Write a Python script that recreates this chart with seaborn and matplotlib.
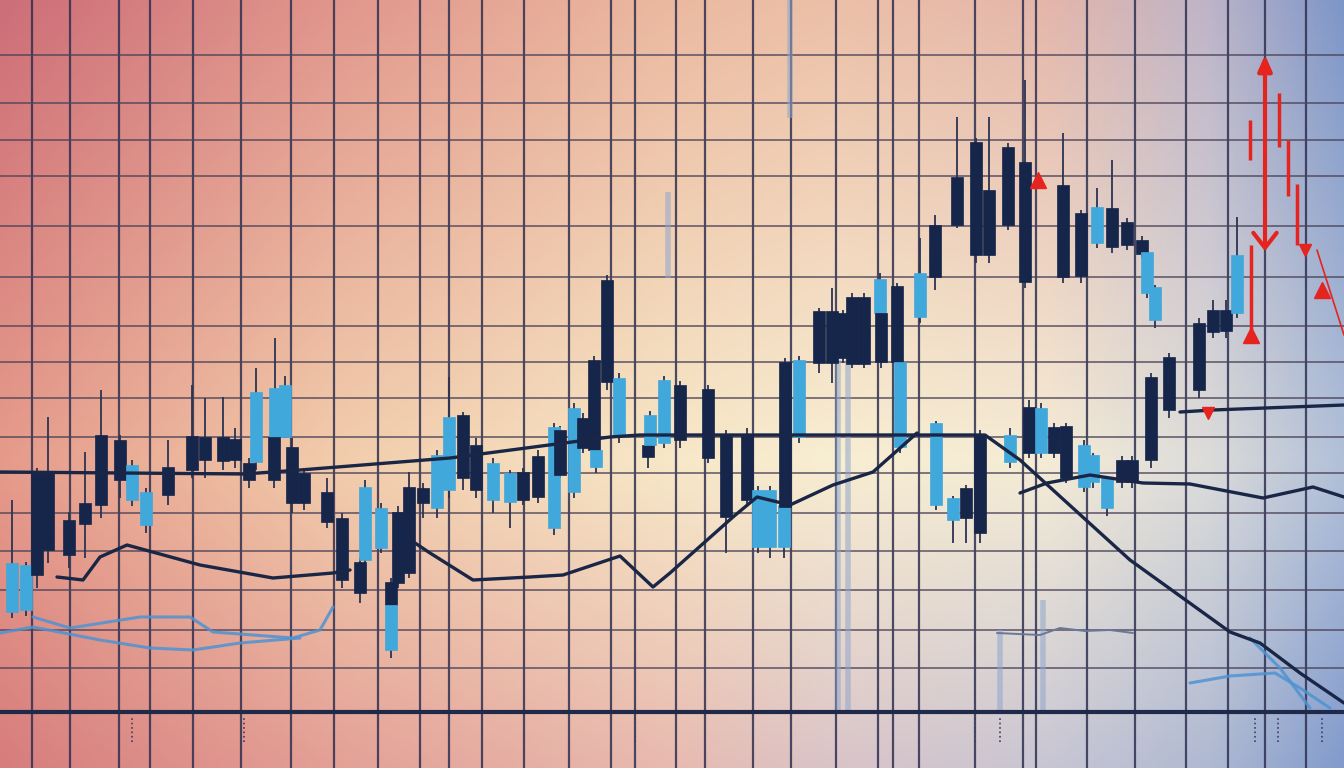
import numpy as np
import pandas as pd
import seaborn as sns
import matplotlib.pyplot as plt

# candles: x position, open, close, high, low
cx = [12, 26, 37, 48, 69, 85, 101, 120, 132, 146, 168, 192, 205, 223, 235, 249, 256, 275, 285, 274,
      292, 304, 327, 342, 365, 360, 381, 391, 391, 398, 409, 423, 437, 449, 463, 476, 493, 510, 523, 538,
      554, 560, 574, 583, 594, 596, 607, 619, 648, 650, 664, 680, 708, 726, 747, 758, 770, 784, 785, 799,
      819, 832, 843, 852, 864, 880, 881, 897, 900, 920, 935, 936, 953, 966, 980, 957, 976, 989, 1008, 1025,
      1063, 1081, 1097, 1112, 1127, 1142, 1147, 1155, 1029, 1041, 1010, 1054, 1066, 1084, 1093, 1107, 1122, 1132, 1151, 1169,
      1199, 1213, 1226, 1237]
co = [156, 158, 295, 295, 248, 265, 333, 328, 268, 243, 301, 332, 331, 331, 329, 305, 306, 331, 331, 331,
      321, 295, 276, 250, 208, 206, 220, 186, 118, 256, 281, 280, 260, 278, 353, 323, 268, 266, 296, 312,
      240, 338, 276, 350, 408, 301, 488, 333, 323, 323, 325, 383, 379, 333, 332, 221, 221, 221, 406, 331,
      457, 457, 455, 471, 471, 455, 455, 482, 321, 451, 543, 263, 248, 280, 333, 591, 626, 578, 621, 606,
      583, 555, 525, 560, 546, 528, 475, 448, 361, 315, 306, 341, 342, 281, 286, 260, 308, 308, 391, 411,
      445, 458, 458, 455]
cc = [205, 203, 193, 218, 213, 244, 263, 288, 303, 276, 273, 298, 308, 307, 308, 288, 376, 380, 383, 288,
      265, 265, 246, 188, 281, 175, 260, 163, 163, 185, 195, 265, 313, 351, 290, 278, 305, 295, 268, 271,
      341, 293, 360, 320, 318, 318, 386, 390, 311, 353, 388, 328, 310, 251, 268, 278, 278, 263, 261, 408,
      405, 405, 410, 404, 404, 489, 406, 406, 406, 495, 491, 345, 270, 250, 235, 543, 513, 513, 543, 486,
      491, 492, 561, 521, 523, 514, 516, 481, 315, 360, 333, 315, 290, 323, 313, 290, 286, 286, 308, 358,
      378, 436, 437, 513]
ch = [268, 206, 300, 351, 256, 316, 378, 333, 308, 280, 328, 383, 370, 371, 340, 310, 400, 430, 392, 331,
      330, 300, 290, 255, 288, 210, 265, 190, 163, 262, 296, 285, 318, 391, 356, 330, 310, 298, 300, 318,
      345, 342, 365, 355, 412, 320, 493, 395, 326, 357, 392, 387, 383, 338, 340, 282, 282, 265, 410, 412,
      460, 480, 458, 475, 475, 495, 455, 485, 406, 530, 553, 347, 272, 283, 338, 651, 630, 651, 625, 688,
      635, 558, 580, 608, 550, 532, 518, 483, 368, 365, 340, 345, 345, 328, 315, 292, 312, 312, 395, 415,
      450, 468, 468, 551]
cl = [150, 152, 180, 205, 200, 210, 250, 270, 262, 235, 263, 290, 290, 298, 300, 280, 298, 325, 330, 280,
      255, 258, 240, 180, 200, 165, 215, 160, 110, 180, 190, 250, 250, 270, 278, 270, 255, 240, 263, 265,
      233, 290, 270, 315, 310, 295, 378, 325, 300, 318, 320, 320, 305, 215, 262, 215, 210, 210, 255, 325,
      395, 385, 405, 400, 400, 450, 400, 400, 315, 445, 478, 258, 225, 225, 225, 540, 505, 505, 538, 480,
      485, 485, 520, 515, 518, 510, 470, 440, 310, 310, 300, 310, 285, 276, 280, 252, 280, 280, 300, 350,
      370, 430, 430, 450]

# moving-average style lines
ma_x = [0, 245, 300, 450, 610, 640, 985, 1020, 1130, 1230, 1260, 1300, 1344]
ma_y = [296, 294, 298, 310, 331, 333, 333, 308, 208, 136, 125, 95, 65]
b1_x = [57, 83, 100, 127, 200, 273, 333, 350]
b1_y = [191, 188, 211, 223, 203, 190, 195, 198]
b2_x = [415, 430, 473, 530, 563, 620, 653, 670, 733, 757, 790, 833, 873, 917]
b2_y = [225, 215, 188, 191, 193, 212, 181, 195, 251, 271, 263, 283, 296, 335]
c_x = [1020, 1047, 1090, 1143, 1190, 1263, 1313, 1344]
c_y = [275, 285, 293, 285, 284, 270, 281, 271]
d_x = [1180, 1213, 1344]
d_y = [356, 358, 363]

# light blue indicator lines
l1_x = [0, 33, 100, 150, 193, 240, 300]
l1_y = [135, 141, 128, 120, 118, 125, 130]
l2_x = [33, 70, 140, 190, 213, 293, 320, 333]
l2_y = [151, 140, 151, 151, 136, 130, 138, 161]
l3_x = [997, 1040, 1060, 1085, 1110, 1133]
l3_y = [135, 133, 140, 137, 138, 135]
l4_x = [1190, 1230, 1275, 1300, 1330]
l4_y = [85, 92, 95, 80, 60]
l5_x = [1250, 1280, 1310]
l5_y = [130, 100, 60]

# pale ghost wicks
gw_x = [838, 848, 1000, 1043, 790, 668]
gw_lo = [58, 58, 58, 58, 650, 490]
gw_hi = [408, 408, 138, 168, 768, 576]

# red signal marks
red_seg_x = [1250, 1251, 1279, 1288, 1297]
red_seg_lo = [608, 438, 621, 572, 523]
red_seg_hi = [648, 523, 675, 628, 584]
red_up_x = [1038, 1251, 1322]
red_up_y = [588, 433, 478]
red_dn_x = [1305, 1208]
red_dn_y = [518, 355]

# grid
grid_x = [32, 70, 119, 150, 193, 241, 291, 334, 378, 420, 449, 482, 524, 569, 611, 635, 676, 705,
          753, 791, 836, 878, 893, 919, 975, 1023, 1036, 1087, 1135, 1186, 1228, 1265, 1306]
grid_y = [713, 665, 628, 592, 542, 491, 442, 406, 370, 331, 295, 255, 217, 178, 138, 100]
axis_y = 56
tick_x = [132, 244, 635, 975, 1000, 1255, 1278, 1322]

df = pd.DataFrame({'x': cx, 'open': co, 'close': cc, 'high': ch, 'low': cl})

sns.set_theme(style='white')
fig = plt.figure(figsize=(13.44, 7.68), dpi=100)
ax = fig.add_axes([0, 0, 1, 1])

# background gradient (salmon -> cream -> blue), rows top -> bottom
xs = [0.0, 0.25, 0.5, 0.62, 0.78, 0.9, 1.0]
top = [(205, 110, 120), (225, 150, 140), (235, 185, 160), (236, 192, 168), (228, 182, 170), (190, 180, 200), (125, 150, 200)]
mid = [(230, 155, 138), (242, 205, 172), (247, 232, 200), (248, 238, 210), (245, 236, 214), (220, 220, 218), (178, 192, 216)]
bot = [(215, 125, 125), (228, 160, 150), (232, 186, 176), (218, 196, 200), (200, 198, 212), (175, 185, 210), (130, 155, 205)]
W, H = 400, 200
u = np.linspace(0, 1, W)
def row(stops):
    arr = np.array(stops, dtype=float) / 255
    return np.stack([np.interp(u, xs, arr[:, k]) for k in range(3)], axis=1)
rt, rm, rb = row(top), row(mid), row(bot)
v = np.linspace(0, 1, H)[:, None, None]
img = np.where(v < 0.6,
               rt[None] + (rm - rt)[None] * (v / 0.6),
               rm[None] + (rb - rm)[None] * ((v - 0.6) / 0.4))
ax.imshow(np.clip(img, 0, 1), extent=[0, 1344, 0, 768], aspect='auto', zorder=0, origin='upper')
ax.set_xlim(0, 1344)
ax.set_ylim(0, 768)
ax.axis('off')

ax.vlines(grid_x, 0, 768, color='#2e3050', lw=1.6, alpha=0.85, zorder=1)
ax.hlines(grid_y, 0, 1344, color='#4a4258', lw=1.4, alpha=0.7, zorder=1)
ax.vlines(gw_x, gw_lo, gw_hi, color='#8fa6cc', lw=4, alpha=0.55, zorder=2)

navy = '#16254a'
blue = '#41a8dc'
for _, r in df.iterrows():
    up = r['close'] > r['open']
    col = blue if up else navy
    ax.vlines(r['x'], r['low'], r['high'], color='#2b3452', lw=1.3, zorder=3)
    ax.bar(r['x'], abs(r['close'] - r['open']), bottom=min(r['open'], r['close']),
           width=12.5, color=col, edgecolor=col, lw=0.5, zorder=4)

lines = pd.concat([
    pd.DataFrame({'x': l1_x, 'y': l1_y, 'name': 'l1'}),
    pd.DataFrame({'x': l2_x, 'y': l2_y, 'name': 'l2'}),
    pd.DataFrame({'x': l4_x, 'y': l4_y, 'name': 'l4'}),
    pd.DataFrame({'x': l5_x, 'y': l5_y, 'name': 'l5'}),
])
sns.lineplot(data=lines, x='x', y='y', units='name', estimator=None, sort=False,
             color='#4f93d2', lw=2.2, alpha=0.85, ax=ax, zorder=5)
sns.lineplot(x=l3_x, y=l3_y, sort=False, color='#6a7898', lw=1.4, ax=ax, zorder=5)

dark = pd.concat([
    pd.DataFrame({'x': ma_x, 'y': ma_y, 'name': 'ma'}),
    pd.DataFrame({'x': b1_x, 'y': b1_y, 'name': 'b1'}),
    pd.DataFrame({'x': b2_x, 'y': b2_y, 'name': 'b2'}),
    pd.DataFrame({'x': c_x, 'y': c_y, 'name': 'c'}),
    pd.DataFrame({'x': d_x, 'y': d_y, 'name': 'd'}),
])
sns.lineplot(data=dark, x='x', y='y', units='name', estimator=None, sort=False,
             color='#1a2646', lw=2.4, ax=ax, zorder=6)

# bottom axis line with small ticks
ax.axhline(axis_y, color='#1f2a4a', lw=3, zorder=6)
ax.vlines(tick_x, axis_y - 30, axis_y - 6, color='#3a4060', lw=1.2, linestyles=':', zorder=6)

# red signals
red = '#e5241f'
ax.vlines(red_seg_x, red_seg_lo, red_seg_hi, color=red, lw=2.5, zorder=7)
ax.plot(red_up_x, red_up_y, '^', color=red, ms=11, zorder=7, ls='none')
ax.plot(red_dn_x, red_dn_y, 'v', color=red, ms=9, zorder=7, ls='none')
ax.plot([1317, 1344], [518, 433], color=red, lw=1.2, zorder=7)
ax.annotate('', xy=(1265, 716), xytext=(1265, 600),
            arrowprops=dict(arrowstyle='-|>,head_length=0.8,head_width=0.35', color=red, lw=3), zorder=8)
ax.annotate('', xy=(1265, 514), xytext=(1265, 605),
            arrowprops=dict(arrowstyle='->,head_length=0.9,head_width=0.7', color=red, lw=3), zorder=8)

fig.savefig('out.png', dpi=100)
